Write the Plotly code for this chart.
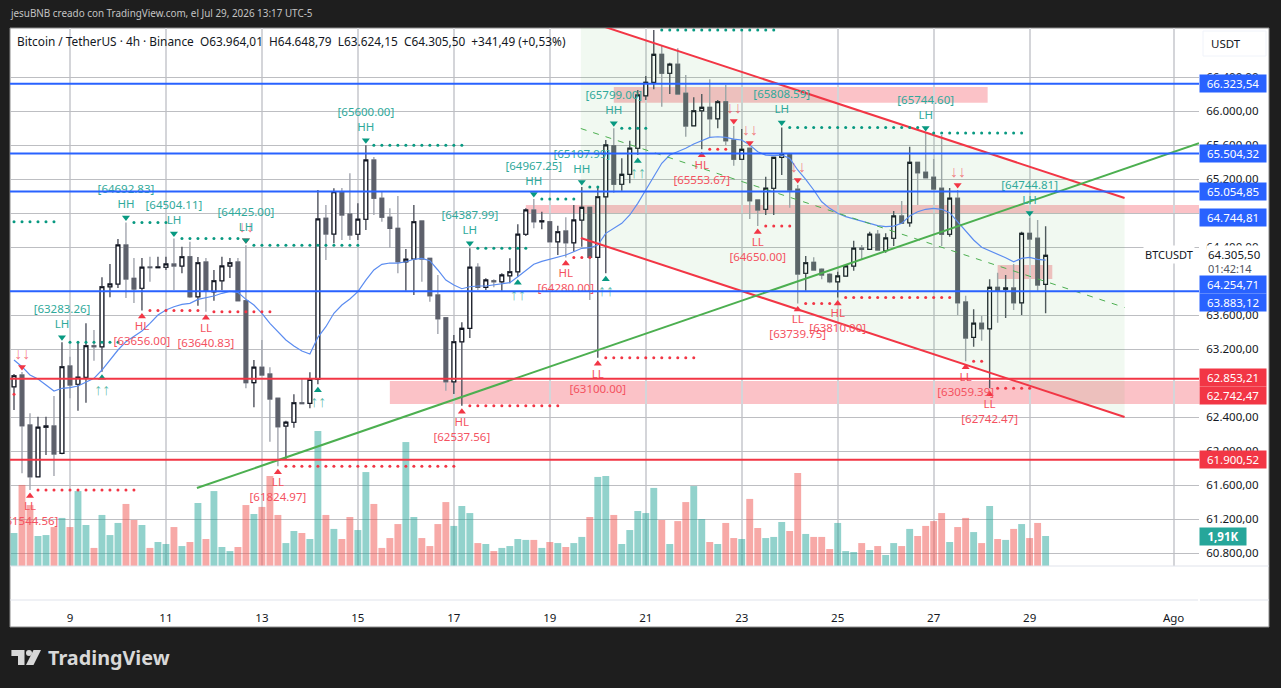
import pandas as pd
import plotly.graph_objects as go

opens = [62760, 62898, 62310, 61702, 62283, 62298, 61977, 63004, 62789, 62871,
         63243, 63231, 63936, 63968, 64427, 64035, 63918, 64168, 64161, 64165,
         64203, 64180, 64289, 63819, 64227, 63878, 64007, 64180, 64227, 63772,
         62808, 62989, 62910, 62624, 62298, 62342, 62572, 62565, 62847, 64741,
         64556, 65054, 64791, 64553, 64729, 65426, 64976, 64753, 64623, 64230,
         64262, 64709, 64270, 63839, 63572, 62819, 63290, 63447, 64165, 63929,
         64007, 63995, 64066, 64113, 64553, 64838, 64701, 64701, 64466, 64591,
         64454, 64721, 64870, 64282, 64995, 65595, 65141, 65258, 65564, 66183,
         66340, 66669, 66446, 66552, 66211, 65830, 66006, 66046, 65912, 66112,
         65662, 65435, 65564, 64956, 64847, 65094, 65458, 65493, 65082, 64094,
         64223, 64141, 64082, 63995, 64062, 64180, 64392, 64376, 64553, 64362,
         64506, 64768, 64689, 65399, 65282, 65223, 65094, 64553, 64976, 63756,
         63341, 63506, 63442, 63929, 63906, 63921, 63748, 64564, 64506, 63964.01]
highs = [62910, 62933, 62448, 62408, 62408, 62651, 63283, 63113, 63278, 63506,
         63427, 64047, 64203, 64497, 64693, 64274, 64274, 64289, 64289, 64289,
         64504, 64407, 64466, 64286, 64274, 64133, 64289, 64274, 64274, 64425,
         63074, 63310, 62989, 62628, 62361, 62671, 62859, 62930, 65074, 64897,
         65094, 65097, 65270, 64917, 65600, 65462, 65054, 64858, 65003, 64380,
         64897, 64709, 64274, 64074, 63580, 63368, 63518, 64388, 64212, 64035,
         64023, 64094, 64270, 64670, 64858, 64967, 64818, 64709, 64654, 64753,
         64897, 65108, 64874, 65097, 65662, 65799, 65446, 65653, 66250, 66414,
         66955, 66767, 66571, 66740, 66426, 66164, 66203, 66375, 66132, 66308,
         65826, 65791, 65568, 64956, 65230, 65462, 65809, 65509, 65132, 64297,
         64282, 64153, 64094, 64113, 64200, 64477, 64427, 64583, 64603, 64564,
         64827, 64944, 65583, 65403, 65745, 65438, 65720, 65097, 65074, 63831,
         63671, 63592, 64023, 64101, 64074, 64203, 64583, 64745, 64721, 64648.79]
lows = [62486, 61742, 61545, 61700, 61957, 61710, 61965, 62624, 62478, 62572,
        63066, 62937, 63812, 63921, 63804, 63745, 63656, 63995, 64156, 64133,
        63898, 64094, 63804, 63713, 63641, 63772, 63898, 64039, 63768, 62742,
        62518, 62892, 62114, 61825, 61898, 62278, 62555, 62506, 62789, 64250,
        64447, 64486, 64486, 64486, 64603, 64780, 64701, 64395, 64094, 63889,
        63839, 63995, 63760, 63380, 62713, 62675, 62538, 63333, 63898, 63898,
        63929, 63889, 63976, 64054, 64533, 64623, 64611, 64466, 64309, 64280,
        64348, 64407, 63780, 63100, 64094, 65042, 65065, 65152, 65485, 66132,
        66258, 66053, 66203, 66197, 65700, 65826, 65554, 65693, 65799, 65603,
        65359, 65426, 64733, 64650, 64780, 64780, 65250, 64865, 63740, 63889,
        64127, 64023, 63976, 63810, 64054, 64125, 64259, 64368, 64362, 64336,
        64415, 64680, 64642, 64897, 65215, 65080, 64415, 64524, 63604, 63059,
        63231, 63301, 62742, 63513, 63568, 63662, 63604, 64270, 63889, 63624.15]
closes = [62890, 62302, 61702, 62283, 62298, 61969, 62996, 62780, 62871, 63243,
          63231, 63936, 63968, 64427, 64027, 63909, 64165, 64161, 64168, 64203,
          64180, 64289, 63819, 64219, 63889, 64007, 64180, 64219, 63772, 62808,
          62989, 62898, 62616, 62290, 62342, 62572, 62561, 62847, 64733, 64556,
          65054, 64780, 64544, 64729, 65426, 64976, 64753, 64623, 64230, 64259,
          64701, 64262, 63831, 63560, 62819, 63290, 63447, 64165, 63929, 64015,
          63995, 64074, 64113, 64553, 64838, 64701, 64713, 64466, 64583, 64454,
          64721, 64870, 64282, 64995, 65603, 65141, 65258, 65564, 66191, 66340,
          66669, 66446, 66552, 66203, 65826, 66006, 66046, 65912, 66112, 65653,
          65435, 65552, 64948, 64838, 65094, 65458, 65493, 65074, 64086, 64219,
          64133, 64074, 63995, 64062, 64180, 64388, 64376, 64553, 64368, 64509,
          64768, 64682, 65399, 65277, 65218, 65085, 64553, 64976, 63748, 63333,
          63506, 63442, 63929, 63889, 63921, 63748, 64564, 64497, 63956, 64305.50]
# volume in thousands of BTC
volumes = [2.10, 5.16, 3.88, 1.91, 1.97, 2.48, 3.06, 2.48, 4.77, 2.61,
           1.15, 3.25, 1.97, 2.74, 3.95, 2.93, 2.61, 1.15, 1.53, 1.40,
           2.48, 1.27, 1.53, 4.01, 1.72, 4.77, 1.21, 0.95, 1.21, 3.88,
           3.31, 3.76, 5.73, 3.25, 1.46, 2.23, 2.10, 1.72, 8.59, 3.25,
           2.36, 1.72, 3.12, 2.29, 5.98, 3.95, 1.15, 1.78, 2.67, 7.89,
           3.12, 1.78, 1.27, 2.67, 4.07, 2.55, 3.82, 3.37, 1.46, 1.40,
           0.95, 1.15, 1.27, 1.72, 1.66, 1.66, 1.15, 1.53, 1.46, 1.21,
           1.46, 1.85, 3.12, 5.67, 5.73, 3.25, 1.40, 2.29, 3.50, 3.37,
           4.97, 2.93, 1.40, 2.86, 4.07, 5.09, 2.99, 1.53, 1.40, 2.74,
           1.78, 1.72, 4.27, 2.42, 1.78, 1.85, 2.80, 2.23, 5.92, 2.04,
           1.85, 1.85, 1.08, 2.74, 0.95, 0.89, 1.46, 1.02, 1.27, 0.70,
           1.46, 1.27, 2.36, 1.91, 2.55, 2.86, 3.37, 1.53, 2.48, 3.06,
           2.16, 1.46, 3.82, 1.72, 1.66, 2.36, 2.67, 1.78, 2.74, 1.91]
ema = [63074, 62996, 62898, 62851, 62780, 62710, 62742, 62749, 62769, 62812,
       62859, 62957, 63074, 63192, 63290, 63357, 63416, 63506, 63604, 63662,
       63701, 63729, 63741, 63788, 63807, 63827, 63859, 63882, 63871, 63788,
       63721, 63624, 63506, 63407, 63310, 63239, 63180, 63145, 63341, 63466,
       63624, 63721, 63792, 63878, 64015, 64133, 64200, 64215, 64215, 64230,
       64259, 64270, 64242, 64133, 64015, 63956, 63913, 63936, 63945, 63945,
       63956, 63965, 63984, 64054, 64125, 64200, 64235, 64259, 64282, 64309,
       64348, 64388, 64395, 64427, 64564, 64623, 64682, 64780, 64917, 65074,
       65230, 65388, 65485, 65524, 65564, 65615, 65653, 65693, 65700, 65693,
       65673, 65662, 65603, 65524, 65485, 65477, 65485, 65446, 65309, 65199,
       65074, 64936, 64858, 64800, 64760, 64733, 64701, 64682, 64654, 64642,
       64650, 64682, 64768, 64818, 64847, 64858, 64847, 64807, 64701, 64583,
       64486, 64400, 64360, 64321, 64277, 64230, 64270, 64282, 64259, 64250]

# swing points
top_bars = [6, 14, 20, 29, 44, 57, 65, 71, 75, 96, 114, 127]
top_names = ["LH", "HH", "LH", "LH", "HH", "LH", "HH", "HH", "HH", "LH", "LH", "LH"]
top_values = [63283.26, 64692.83, 64504.11, 64425.00, 65600.00, 64387.99,
              64967.25, 65107.99, 65799.00, 65808.59, 65744.60, 64744.81]
low_bars = [2, 16, 24, 33, 56, 69, 73, 86, 93, 98, 103, 119, 122]
low_names = ["LL", "HL", "LL", "LL", "HL", "HL", "LL", "HL", "LL", "LL", "HL", "LL", "LL"]
low_values = [61544.56, 63656.00, 63640.83, 61824.97, 62537.56, 64280.00, 63100.00,
              65553.67, 64650.00, 63739.75, 63810.00, 63059.39, 62742.47]

# dotted levels: price, first bar, last bar
green_dot_prices = [64700, 63283.26, 64692.83, 64504.11, 64425.00, 65600.00, 64387.99,
                    64967.25, 65107.99, 65799.00, 66955, 65808.59, 65744.60]
green_dot_first = [0, 7, 15, 21, 30, 45, 58, 66, 72, 76, 81, 97, 115]
green_dot_last = [5, 13, 19, 28, 43, 56, 64, 70, 73, 79, 95, 113, 126]
red_dot_prices = [62671, 61544.56, 63656.00, 63640.83, 61824.97, 62537.56, 64280.00,
                  63100.00, 65553.67, 64650.00, 63739.75, 63810.00, 63059.39, 62742.47]
red_dot_first = [0, 3, 17, 25, 34, 57, 70, 74, 87, 94, 99, 104, 120, 123]
red_dot_last = [0, 15, 23, 32, 55, 68, 72, 85, 89, 97, 102, 117, 121, 127]

buy_bars = [11, 38, 63, 74, 78]
sell_bars = [1, 29, 90, 92, 98, 118]

# drawings
blue_lines = [66323.54, 65504.32, 65054.85, 63883.12]
red_lines = [62853.21, 61900.52]
zone_x0 = ["2026-07-15 16:00", "2026-07-18 12:00", "2026-07-20 08:00", "2026-07-28 08:00"]
zone_x1 = ["2026-08-02 00:00", "2026-08-02 00:00", "2026-07-28 03:00", "2026-07-29 11:20"]
zone_hi = [62827, 64897, 66285, 64192]
zone_lo = [62557, 64800, 66100, 64027]
channel_dates = ["2026-07-19 15:30", "2026-07-30 23:30"]
channel_top = [67085, 64980]
channel_mid = [65797, 63692]
channel_bot = [64509, 62404]
trend_dates = ["2026-07-11 15:30", "2026-08-01 12:43"]
trend_prices = [61569, 65623]

# price scale badges
badge_prices = [66323.54, 65504.32, 65054.85, 64744.81, 64254.71, 63883.12,
                62853.21, 62742.47, 61900.52]
badge_shift = [0, 0, 0, 0, -25, -11, 1, -7, 0]
badge_colors = ["#2962ff"] * 6 + ["#f23645"] * 3

price_ticks = [60800, 61200, 61600, 62000, 62400, 63200, 63600, 64400,
               64800, 65200, 65600, 66000, 66400]
date_ticks = ["2026-07-09", "2026-07-11", "2026-07-13", "2026-07-15", "2026-07-17",
              "2026-07-19", "2026-07-21", "2026-07-23", "2026-07-25", "2026-07-27",
              "2026-07-29", "2026-08-01"]
date_labels = ["9", "11", "13", "15", "17", "19", "21", "23", "25", "27", "29", "Ago"]

FONT = "Noto Sans"
DARK = "#131722"
TEAL = "#26a69a"
RED = "#f23645"
PX = 11.76  # price units per pixel on this scale
LEFT, RIGHT, TOP, BOTTOM = 10, 1199, 28, 566


def px_x(px):
    return (px - LEFT) / (RIGHT - LEFT)


def px_y(py):
    return (BOTTOM - py) / (BOTTOM - TOP)


def fmt(v):
    return f"{v:,.2f}".replace(",", "#").replace(".", ",").replace("#", ".")


times = pd.date_range("2026-07-07 20:00", periods=len(opens), freq="4h")
fig = go.Figure()

# volume sits on the lower axis so candles stay on top
fig.add_trace(go.Bar(
    x=times, y=volumes, yaxis="y", width=4 * 3600 * 1000 * 0.86,
    marker_color=["rgba(38,166,154,0.5)" if c >= o else "rgba(239,83,80,0.5)"
                  for o, c in zip(opens, closes)],
    marker_line_width=0, hoverinfo="skip"))

# channel fill
fig.add_trace(go.Scatter(
    x=channel_dates + channel_dates[::-1], y=channel_top + channel_bot[::-1],
    yaxis="y2", mode="lines", fill="toself", fillcolor="rgba(76,175,80,0.08)",
    line_width=0, hoverinfo="skip"))

fig.add_trace(go.Candlestick(
    x=times, open=opens, high=highs, low=lows, close=closes, yaxis="y2",
    whiskerwidth=0,
    increasing=dict(line=dict(color="#50535e", width=1.4), fillcolor="#ffffff"),
    decreasing=dict(line=dict(color="#a3a6af", width=1.4), fillcolor="#5d606b")))
# bodies again so the border differs from the wick
fig.add_trace(go.Candlestick(
    x=times, open=opens, close=closes, yaxis="y2", whiskerwidth=0,
    high=[max(o, c) for o, c in zip(opens, closes)],
    low=[min(o, c) for o, c in zip(opens, closes)],
    increasing=dict(line=dict(color="#131722", width=1.1), fillcolor="#ffffff"),
    decreasing=dict(line=dict(color="#5d606b", width=1.1), fillcolor="#5d606b")))

fig.add_trace(go.Scatter(x=times, y=ema, yaxis="y2", mode="lines",
                         line=dict(color="#5b8cf0", width=1.2), hoverinfo="skip"))

fig.add_trace(go.Scatter(x=channel_dates, y=channel_mid, yaxis="y2", mode="lines",
                         line=dict(color="#4caf50", width=1, dash="6px,7px"), hoverinfo="skip"))
fig.add_trace(go.Scatter(x=channel_dates, y=channel_top, yaxis="y2", mode="lines",
                         line=dict(color=RED, width=2), hoverinfo="skip"))
fig.add_trace(go.Scatter(x=channel_dates, y=channel_bot, yaxis="y2", mode="lines",
                         line=dict(color=RED, width=2), hoverinfo="skip"))
fig.add_trace(go.Scatter(x=trend_dates, y=trend_prices, yaxis="y2", mode="lines",
                         line=dict(color="#4caf50", width=2), hoverinfo="skip"))


def add_dots(prices, firsts, lasts, color):
    xs, ys = [], []
    for p, a, b in zip(prices, firsts, lasts):
        xs += list(times[a:b + 1])
        ys += [p] * (b - a + 1)
    fig.add_trace(go.Scatter(x=xs, y=ys, yaxis="y2", mode="markers",
                             marker=dict(color=color, size=3), hoverinfo="skip"))


add_dots(green_dot_prices, green_dot_first, green_dot_last, "#089981")
add_dots(red_dot_prices, red_dot_first, red_dot_last, RED)


def add_text(bars, prices, texts, color, size=11.5):
    fig.add_trace(go.Scatter(x=times[bars], y=prices, yaxis="y2", mode="text", text=texts,
                             textposition="middle center",
                             textfont=dict(family=FONT, size=size, color=color),
                             hoverinfo="skip"))


def add_marks(bars, prices, symbol, color):
    fig.add_trace(go.Scatter(x=times[bars], y=prices, yaxis="y2", mode="markers",
                             marker=dict(symbol=symbol, color=color, size=7), hoverinfo="skip"))


# arrow signals go under the swing labels
add_text(sell_bars, [highs[b] + 17 * PX for b in sell_bars], ["↓↓"] * len(sell_bars),
         "rgba(242,54,69,0.65)", 16)
add_marks(sell_bars, [highs[b] + 5 * PX for b in sell_bars], "triangle-down", RED)
add_text(buy_bars, [lows[b] - 19 * PX for b in buy_bars], ["↑↑"] * len(buy_bars),
         "rgba(8,153,129,0.65)", 16)
add_marks(buy_bars, [lows[b] - 6 * PX for b in buy_bars], "triangle-up", "#089981")

add_marks(top_bars, [v + 5 * PX for v in top_values], "triangle-down", "#089981")
add_text(top_bars, [v + 17 * PX for v in top_values], top_names, "#2fa99b")
add_text(top_bars, [v + 32 * PX for v in top_values],
         [f"[{v:.2f}]" for v in top_values], "#2fa99b")
add_marks(low_bars, [v - 6 * PX for v in low_values], "triangle-up", RED)
add_text(low_bars, [v - 17 * PX for v in low_values], low_names, "#f4525f")
add_text(low_bars, [v - 32 * PX for v in low_values],
         [f"[{v:.2f}]" for v in low_values], "#f4525f")

shapes = [
    # white chart panel
    dict(type="rect", xref="paper", yref="paper", layer="below", x0=px_x(10), x1=px_x(1269),
         y0=px_y(627), y1=px_y(28), fillcolor="#ffffff", line=dict(color="#8a8a8a", width=1)),
    dict(type="line", xref="paper", yref="paper", x0=px_x(1199), x1=px_x(1269),
         y0=0, y1=0, line=dict(color="#e0e3eb", width=1)),
    dict(type="line", xref="paper", yref="paper", x0=0, x1=1, y0=0, y1=0,
         line=dict(color="#e0e3eb", width=1)),
    dict(type="line", xref="paper", yref="paper", x0=px_x(10), x1=px_x(1198),
         y0=px_y(600), y1=px_y(600), line=dict(color="#e0e3eb", width=1)),
    dict(type="line", xref="paper", yref="paper", x0=px_x(1200), x1=px_x(1269),
         y0=px_y(600), y1=px_y(600), line=dict(color="#e0e3eb", width=1)),
    # USDT box
    dict(type="rect", xref="paper", yref="paper", x0=px_x(1203), x1=px_x(1266),
         y0=px_y(56), y1=px_y(31), fillcolor="#ffffff", line=dict(color="#f0f3fa", width=1)),
    # logo
    dict(type="path", xref="paper", yref="paper", fillcolor="#d8d8d8", line_width=0,
         path=" ".join(f"{c}{px_x(x)},{px_y(y)}" for c, x, y in [
             ("M", 11.4, 650), ("L", 24.5, 650), ("L", 24.5, 665), ("L", 18, 665),
             ("L", 18, 656), ("L", 11.4, 656)]) + " Z"),
    dict(type="circle", xref="paper", yref="paper", fillcolor="#d8d8d8", line_width=0,
         x0=px_x(26), x1=px_x(32), y0=px_y(656), y1=px_y(650)),
    dict(type="path", xref="paper", yref="paper", fillcolor="#d8d8d8", line_width=0,
         path=" ".join(f"{c}{px_x(x)},{px_y(y)}" for c, x, y in [
             ("M", 33.5, 650), ("L", 41, 650), ("L", 33.5, 665), ("L", 26, 665)]) + " Z"),
]
for y0, y1, x0, x1 in zip(zone_lo, zone_hi, zone_x0, zone_x1):
    shapes.append(dict(type="rect", xref="x", yref="y2", layer="below", x0=x0, x1=x1,
                       y0=y0, y1=y1, fillcolor="rgba(242,54,69,0.3)", line_width=0))
for lvl in blue_lines:
    shapes.append(dict(type="line", xref="paper", yref="y2", x0=0, x1=1, y0=lvl, y1=lvl,
                       line=dict(color="#2962ff", width=2)))
for lvl in red_lines:
    shapes.append(dict(type="line", xref="paper", yref="y2", x0=0, x1=1, y0=lvl, y1=lvl,
                       line=dict(color=RED, width=2)))

annotations = []


def note(px, py, text, size=11.5, color=DARK, anchor="left", **kw):
    annotations.append(dict(xref="paper", yref="paper", x=px_x(px), y=px_y(py), text=text,
                            xanchor=anchor, yanchor="middle", showarrow=False,
                            font=dict(family=FONT, size=size, color=color), **kw))


note(8, 13, "jesuBNB creado con TradingView.com, el Jul 29, 2026 13:17 UTC-5", 9.9, "#c4c4c4")
note(15, 41, "Bitcoin / TetherUS · 4h · Binance&nbsp;&nbsp;O63.964,01&nbsp;&nbsp;H64.648,79"
             "&nbsp;&nbsp;L63.624,15&nbsp;&nbsp;C64.305,50&nbsp;&nbsp;+341,49 (+0,53%)", 11.85)
note(1209, 44, "USDT", 11.5)
note(46, 658, "<b>TradingView</b>", 19.8, "#d8d8d8")
note(1195, 255, "BTCUSDT", 11, DARK, "right", bgcolor="#ffffff")
note(1206, 255, "64.305,50", 11.5, DARK, bgcolor="#ffffff")
note(1206, 268, "01:42:14", 11, "#50535e", bgcolor="#ffffff")
# badges
for price, shift, col in zip(badge_prices, badge_shift, badge_colors):
    annotations.append(dict(xref="paper", yref="y2", x=1, y=price, yshift=shift, text=fmt(price),
                            xanchor="left", yanchor="middle", showarrow=False, width=62, height=13,
                            bgcolor=col, borderpad=2, align="center",
                            font=dict(family=FONT, size=11.5, color="#ffffff")))
annotations.append(dict(xref="paper", yref="y", x=1, y=volumes[-1], yshift=0, text="<b>1,91K</b>",
                        xanchor="left", yanchor="middle", showarrow=False, width=42, height=13,
                        bgcolor=TEAL, borderpad=2, align="center",
                        font=dict(family=FONT, size=11.5, color="#ffffff")))

fig.update_layout(
    width=1281, height=688, showlegend=False,
    margin=dict(l=LEFT, r=1281 - RIGHT, t=TOP, b=688 - BOTTOM),
    paper_bgcolor="#1e1e1e", plot_bgcolor="rgba(0,0,0,0)",
    font=dict(family=FONT, color=DARK), boxmode="overlay", boxgap=0.35,
    shapes=shapes, annotations=annotations,
    xaxis=dict(type="date", range=["2026-07-07 18:00", "2026-08-01 12:43"],
               rangeslider_visible=False, tickmode="array", tickvals=date_ticks, ticktext=date_labels,
               ticks="outside", ticklen=41, tickcolor="rgba(0,0,0,0)",
               tickfont=dict(family=FONT, size=11.5, color=DARK),
               showgrid=True, gridcolor="#d4d5d9", gridwidth=2, zeroline=False, showline=False),
    yaxis=dict(range=[0, 34.25], visible=False, fixedrange=True),
    yaxis2=dict(overlaying="y", side="right", range=[60652, 66979], tickmode="array",
                tickvals=price_ticks, ticktext=[fmt(v) for v in price_ticks],
                ticks="outside", ticklen=4, tickcolor="rgba(0,0,0,0)",
                tickfont=dict(family=FONT, size=11.5, color=DARK),
                showgrid=True, gridcolor="#bdbec2", gridwidth=1, zeroline=False, showline=False),
)

fig.write_html("out.html", config={"displayModeBar": False},
               post_script="document.body.style.margin='0';document.body.style.overflow='hidden';")
